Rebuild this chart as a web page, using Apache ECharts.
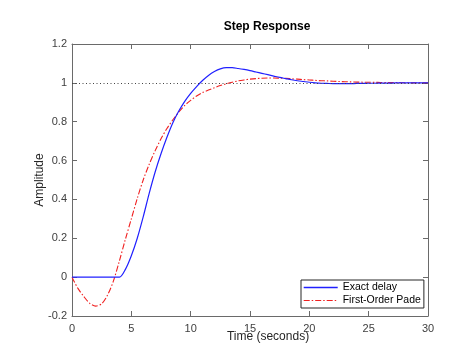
<!DOCTYPE html>
<html>
<head>
<meta charset="utf-8">
<script src="https://cdn.jsdelivr.net/npm/echarts@6/dist/echarts.min.js"></script>
<style>
html,body{margin:0;padding:0;background:#fff;}
#main{width:474px;height:355px;}
</style>
</head>
<body>
<div id="main"></div>
<script>
// Time samples (seconds)
var timeSec = [0,0.5,1,1.5,2,2.5,3,3.5,4,4.5,5,5.5,6,6.5,7,7.5,8,8.5,9,9.5,10,10.5,11,11.5,12,12.5,13,13.5,14,14.5,15,15.5,16,16.5,17,17.5,18,18.5,19,19.5,20,20.5,21,21.5,22,22.5,23,23.5,24,24.5,25,25.5,26,26.5,27,27.5,28,28.5,29,29.5,30];
// Exact delay response
var exactDelay = [0,0,0,0,0,0,0,0,0,0.04,0.11,0.2,0.31,0.43,0.54,0.635,0.72,0.795,0.855,0.905,0.946,0.981,1.012,1.038,1.058,1.072,1.078,1.078,1.074,1.069,1.063,1.056,1.049,1.042,1.035,1.028,1.022,1.016,1.011,1.007,1.003,1.0,0.998,0.997,0.996,0.996,0.996,0.996,0.997,0.997,0.998,0.998,0.999,0.999,0.999,1.0,1.0,1.0,1.0,1.0,1.0];
// First-order Pade approximation response
var firstOrderPade = [0,-0.058,-0.1,-0.135,-0.149,-0.137,-0.092,-0.018,0.085,0.195,0.3,0.405,0.5,0.58,0.65,0.712,0.765,0.81,0.85,0.884,0.91,0.932,0.95,0.963,0.975,0.986,0.995,1.003,1.01,1.015,1.019,1.022,1.024,1.025,1.025,1.024,1.023,1.021,1.019,1.017,1.015,1.013,1.011,1.01,1.008,1.007,1.006,1.005,1.004,1.0035,1.003,1.0025,1.002,1.0015,1.001,1.001,1.0005,1.0,1.0,1.0,1.0];
var seriesNames = ['Exact delay', 'First-Order Pade'];
var seriesColors = ['#2020ff', '#f02020'];
var steadyState = 1;

function pairs(xs, ys){ return xs.map(function(x,i){ return [x, ys[i]]; }); }

var FONT = 'Liberation Sans, Arial, Helvetica, sans-serif';
var AXC = '#6a6a6a';
var LBL = '#404040';
var redDash = [6,2,1.5,2];

function xAx(pos, showLabel){
  return {
    type:'value', min:0, max:30, interval:5, position:pos,
    axisLine:{show:true, onZero:false, lineStyle:{color:AXC, width:1}},
    axisTick:{show:true, inside:true, length:5, lineStyle:{color:AXC, width:1}},
    axisLabel:{show:showLabel, color:LBL, fontSize:11, margin:7, fontFamily:FONT},
    splitLine:{show:false}
  };
}
function yAx(pos, showLabel){
  return {
    type:'value', min:-0.2, max:1.2, interval:0.2, position:pos,
    axisLine:{show:true, onZero:false, lineStyle:{color:AXC, width:1}},
    axisTick:{show:true, inside:true, length:5, lineStyle:{color:AXC, width:1}},
    axisLabel:{show:showLabel, color:LBL, fontSize:11, margin:5, fontFamily:FONT,
      formatter:function(v){ return String(Math.round(v*10)/10); }},
    splitLine:{show:false}
  };
}

var chart = echarts.init(document.getElementById('main'), null, {renderer:'canvas'});
chart.setOption({
  animation:false,
  backgroundColor:'#ffffff',
  grid:{left:72, right:46, top:44, bottom:39, containLabel:false},
  xAxis:[xAx('bottom', true), xAx('top', false)],
  yAxis:[yAx('left', true), yAx('right', false)],
  legend:{
    data:[
      {name:seriesNames[0], itemStyle:{opacity:0}, lineStyle:{color:seriesColors[0], width:1.4, type:'solid'}},
      {name:seriesNames[1], itemStyle:{opacity:0}, lineStyle:{color:seriesColors[1], width:1.2, type:redDash}}
    ],
    orient:'vertical',
    left:301, top:280,
    padding:[2,3,2,2],
    itemWidth:34, itemHeight:10, itemGap:2, itemTextGap:3,
    backgroundColor:'#ffffff',
    borderColor:'#262626', borderWidth:1, borderRadius:0,
    textStyle:{color:'#000', fontSize:10.5, fontFamily:FONT, lineHeight:11},
    selectedMode:false
  },
  graphic:[
    {type:'text', x:267, y:27, style:{text:'Step Response', fill:'#000', font:'bold 12px '+FONT, textAlign:'center', textVerticalAlign:'middle'}},
    {type:'text', x:268, y:337, style:{text:'Time (seconds)', fill:'#262626', font:'12px '+FONT, textAlign:'center', textVerticalAlign:'middle'}},
    {type:'text', x:40, y:180, rotation:Math.PI/2, style:{text:'Amplitude', fill:'#262626', font:'12px '+FONT, textAlign:'center', textVerticalAlign:'middle'}}
  ],
  series:[
    {
      name:seriesNames[0], type:'line', data:pairs(timeSec, exactDelay),
      symbol:'none', smooth:0.3, z:3,
      lineStyle:{color:seriesColors[0], width:1.2, type:'solid'},
      itemStyle:{color:seriesColors[0]},
      markLine:{
        silent:true, symbol:['none','none'], label:{show:false},
        lineStyle:{color:'#444444', width:1, type:[1,2.5]},
        data:[{yAxis:steadyState}]
      }
    },
    {
      name:seriesNames[1], type:'line', data:pairs(timeSec, firstOrderPade),
      symbol:'none', smooth:0.3, z:2,
      lineStyle:{color:seriesColors[1], width:1.1, type:redDash},
      itemStyle:{color:seriesColors[1]}
    }
  ]
});
</script>
</body>
</html>
